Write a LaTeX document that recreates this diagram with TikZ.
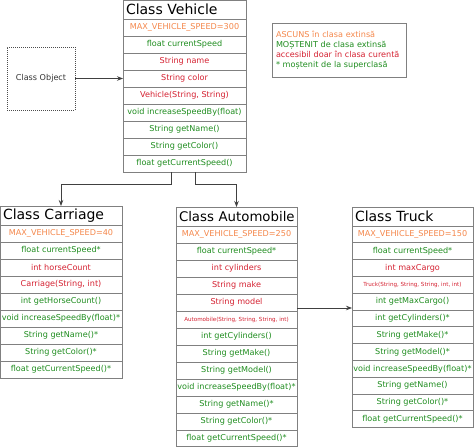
\documentclass[tikz,border=0pt]{standalone}
\usepackage{fontspec}
\setmainfont{DejaVu Sans}
\usetikzlibrary{positioning,arrows.meta}
\definecolor{corange}{HTML}{F4874B}
\definecolor{cgreen}{HTML}{1E8C1E}
\definecolor{cred}{HTML}{D42030}
\definecolor{bgray}{HTML}{808080}
\begin{document}
\begin{tikzpicture}[x=1pt,y=-1pt,
  cell/.style={draw=bgray, line width=0.8pt, inner sep=1pt, outer sep=0pt,
    font=\fontsize{8.1}{10}\selectfont},
  ttl/.style={cell, anchor=north, minimum height=19, inner xsep=3pt, inner ysep=0pt,
    font=\fontsize{14}{16}\selectfont, align=left},
  rw/.style={cell, below=0pt of #1, minimum height=17},
  rwt/.style={cell, below=0pt of #1, minimum height=16.8},
  og/.style={text=corange},
  gr/.style={text=cgreen},
  rd/.style={text=cred},
  sm/.style={font=\fontsize{5.6}{7}\selectfont},
  vw/.style={minimum width=123, text width=117},
  wa/.style={minimum width=122, text width=116},
  wb/.style={minimum width=121, text width=115},
  arr/.style={draw=black!75, line width=0.8pt, -{Stealth[length=6pt,width=4.5pt]}},
  node distance=0pt
]
\useasboundingbox (0,0) rectangle (474,447);

% Class Vehicle
\node[ttl, vw] (v0) at (184.5,0) {\mbox{Class Vehicle}};
\node[rw=v0, minimum width=123, og] (v1) {MAX\_VEHICLE\_SPEED=300};
\node[rw=v1, minimum width=123, gr] (v2) {float currentSpeed};
\node[rw=v2, minimum width=123, rd] (v3) {String name};
\node[rw=v3, minimum width=123, rd] (v4) {String color};
\node[rw=v4, minimum width=123, rd] (v5) {Vehicle(String, String)};
\node[rw=v5, minimum width=123, gr] (v6) {void increaseSpeedBy(float)};
\node[rw=v6, minimum width=123, gr] (v7) {String getName()};
\node[rw=v7, minimum width=123, gr] (v8) {String getColor()};
\node[rw=v8, minimum width=123, gr] (v9) {float getCurrentSpeed()};

% Class Carriage
\node[ttl, wa] (c0) at (61,206) {\mbox{Class Carriage}};
\node[rw=c0, minimum width=122, og] (c1) {MAX\_VEHICLE\_SPEED=40};
\node[rw=c1, minimum width=122, gr] (c2) {float currentSpeed*};
\node[rw=c2, minimum width=122, rd] (c3) {int horseCount};
\node[rw=c3, minimum width=122, rd] (c4) {Carriage(String, int)};
\node[rw=c4, minimum width=122, gr] (c5) {int getHorseCount()};
\node[rw=c5, minimum width=122, gr] (c6) {void increaseSpeedBy(float)*};
\node[rw=c6, minimum width=122, gr] (c7) {String getName()*};
\node[rw=c7, minimum width=122, gr] (c8) {String getColor()*};
\node[rw=c8, minimum width=122, gr] (c9) {float getCurrentSpeed()*};

% Class Automobile
\node[ttl, wb] (a0) at (236.5,207) {\mbox{\fontsize{13.3}{16}\selectfont Class Automobile}};
\node[rw=a0, minimum width=121, og] (a1) {MAX\_VEHICLE\_SPEED=250};
\node[rw=a1, minimum width=121, gr] (a2) {float currentSpeed*};
\node[rw=a2, minimum width=121, rd] (a3) {int cylinders};
\node[rw=a3, minimum width=121, rd] (a4) {String make};
\node[rw=a4, minimum width=121, rd] (a5) {String model};
\node[rw=a5, minimum width=121, rd, sm] (a6) {Automobile(String, String, String, int)};
\node[rw=a6, minimum width=121, gr] (a7) {int getCylinders()};
\node[rw=a7, minimum width=121, gr] (a8) {String getMake()};
\node[rw=a8, minimum width=121, gr] (a9) {String getModel()};
\node[rw=a9, minimum width=121, gr] (a10) {void increaseSpeedBy(float)*};
\node[rw=a10, minimum width=121, gr] (a11) {String getName()*};
\node[rw=a11, minimum width=121, gr] (a12) {String getColor()*};
\node[rw=a12, minimum width=121, minimum height=16, gr] (a13) {float getCurrentSpeed()*};

% Class Truck
\node[ttl, wb] (t0) at (412.5,207) {\mbox{Class Truck}};
\node[rwt=t0, minimum width=121, og] (t1) {MAX\_VEHICLE\_SPEED=150};
\node[rwt=t1, minimum width=121, gr] (t2) {float currentSpeed*};
\node[rwt=t2, minimum width=121, rd] (t3) {int maxCargo};
\node[rwt=t3, minimum width=121, rd, sm] (t4) {Truck(String, String, String, int, int)};
\node[rwt=t4, minimum width=121, gr] (t5) {int getMaxCargo()};
\node[rwt=t5, minimum width=121, gr] (t6) {int getCylinders()*};
\node[rwt=t6, minimum width=121, gr] (t7) {String getMake()*};
\node[rwt=t7, minimum width=121, gr] (t8) {String getModel()*};
\node[rwt=t8, minimum width=121, gr] (t9) {void increaseSpeedBy(float)*};
\node[rwt=t9, minimum width=121, gr] (t10) {String getName()};
\node[rwt=t10, minimum width=121, gr] (t11) {String getColor()*};
\node[rwt=t11, minimum width=121, gr] (t12) {float getCurrentSpeed()*};

% Class Object
\node[draw=black!70, densely dotted, line width=1pt, minimum width=68, minimum height=63,
  font=\fontsize{8.1}{10}\selectfont, text=black!80, outer sep=0pt] (obj) at (41,78.5) {Class Object};

% Legend
\node[draw=bgray, line width=0.8pt, anchor=north west, minimum width=134, minimum height=54,
  text width=126, inner xsep=4pt, inner ysep=4pt, align=left, outer sep=0pt,
  font=\fontsize{8.1}{10}\selectfont] (leg) at (272,23)
  {\textcolor{corange}{ASCUNS în clasa extinsă}\\
   \textcolor{cgreen}{MOȘTENIT de clasa extinsă}\\
   \textcolor{cred}{accesibil doar în clasa curentă}\\
   \textcolor{cgreen}{* moștenit de la superclasă}};

% connectors
\coordinate (vo1) at (171,172);
\coordinate (vo2) at (195,172);
\draw[arr] (vo1) -- ++(0,12) -| (c0.north);
\draw[arr] (vo2) -- ++(0,12) -| (a0.north);
\draw[arr] (obj.east) -- (obj.east -| v0.west);
\coordinate (am) at (297,308);
\draw[arr] (am) -- (am -| t0.west);
\end{tikzpicture}
\end{document}
